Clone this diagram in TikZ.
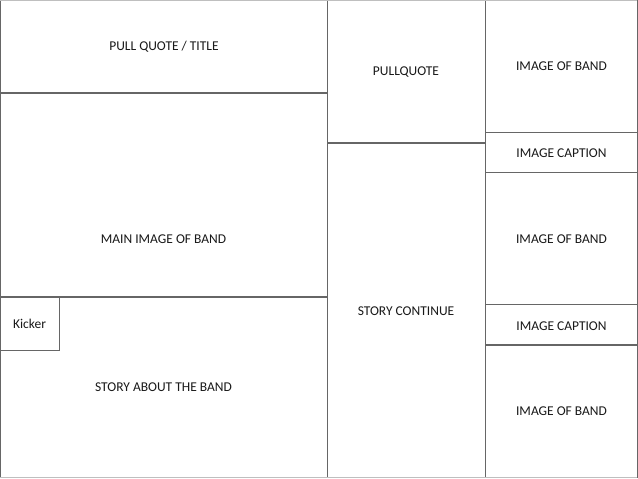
\documentclass[tikz,border=0pt]{standalone}
\usepackage{fontspec}
\setmainfont{Carlito}
\begin{document}
\begin{tikzpicture}[x=0.75pt,y=-0.75pt,
  lbl/.style={font=\fontsize{10.1}{12}\selectfont, text=black!90, inner sep=0pt},
  rule/.style={draw=black!60, line width=0.8pt},
  frame/.style={draw=black!25, line width=0.8pt}]
\useasboundingbox (0,0) rectangle (638,478);
\fill[white] (0,0) rectangle (638,478);
% inner rules
\draw[rule] (327.3,0) -- (327.3,478);
\draw[rule] (485.3,0) -- (485.3,478);
\draw[rule] (0,93) -- (327.3,93);
\draw[rule] (0,297) -- (327.3,297);
\draw[rule] (327.3,143) -- (485.3,143);
\draw[rule] (485.3,132.3) -- (638,132.3);
\draw[rule] (485.3,172.3) -- (638,172.3);
\draw[rule] (485.3,304.7) -- (638,304.7);
\draw[rule] (485.3,345) -- (638,345);
\draw[rule] (0,297) -- (59.3,297) -- (59.3,350.3) -- (0,350.3);
\draw[rule] (0.4,0) -- (0.4,478);
% outer frame
\draw[frame] (0,0.4) -- (638,0.4);
\draw[frame] (0,477.6) -- (638,477.6);
\draw[rule] (637.6,0) -- (637.6,478);
% labels
\node[lbl] (t1) at (164,47) {PULL QUOTE / TITLE};
\node[lbl] (t2) at (406,72) {PULLQUOTE};
\node[lbl] (t3) at (561.5,66) {IMAGE OF BAND};
\node[lbl] (t4) at (561.5,153) {IMAGE CAPTION};
\node[lbl] (t5) at (163.5,239) {MAIN IMAGE OF BAND};
\node[lbl] (t6) at (561.5,239) {IMAGE OF BAND};
\node[lbl] (t7) at (406,311) {STORY CONTINUE};
\node[lbl] (t8) at (29.5,324) {Kicker};
\node[lbl] (t9) at (561.5,326) {IMAGE CAPTION};
\node[lbl] (t10) at (163.5,387) {STORY ABOUT THE BAND};
\node[lbl] (t11) at (561.5,411) {IMAGE OF BAND};
\end{tikzpicture}
\end{document}
